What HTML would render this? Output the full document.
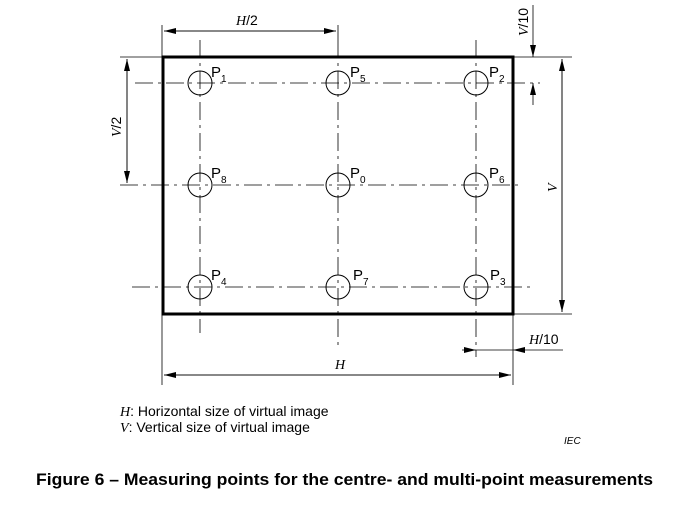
<!DOCTYPE html>
<html><head><style>
body{margin:0;background:#fff;width:689px;height:504px;overflow:hidden}
svg text{font-family:"Liberation Sans",sans-serif;fill:#000}
.i{font-family:"Liberation Serif",serif;font-style:italic}
</style></head><body>
<svg width="689" height="504" viewBox="0 0 689 504">
<defs>
<marker id="a" markerWidth="12" markerHeight="6" refX="12" refY="3" orient="auto" markerUnits="userSpaceOnUse"><path d="M0,0L12,3L0,6z" fill="#000"/></marker>
</defs>
<g stroke="#000" stroke-width="0.8" fill="none" stroke-dasharray="18,5,3,5">
<line x1="200" y1="40" x2="200" y2="333"/>
<line x1="338" y1="40" x2="338" y2="345"/>
<line x1="476" y1="40" x2="476" y2="357"/>
<line x1="135" y1="83" x2="540" y2="83"/>
<line x1="120" y1="185" x2="520" y2="185"/>
<line x1="132" y1="287" x2="530" y2="287"/>
</g>
<g stroke="#000" stroke-width="1" fill="none">
<circle cx="200" cy="83" r="12"/><circle cx="338" cy="83" r="12"/><circle cx="476" cy="83" r="12"/>
<circle cx="200" cy="185" r="12"/><circle cx="338" cy="185" r="12"/><circle cx="476" cy="185" r="12"/>
<circle cx="200" cy="287" r="12"/><circle cx="338" cy="287" r="12"/><circle cx="476" cy="287" r="12"/>
</g>
<rect x="163" y="57" width="350" height="257" fill="none" stroke="#000" stroke-width="3"/>
<g stroke="#000" stroke-width="0.8" fill="none">
<line x1="162" y1="25" x2="162" y2="57"/><line x1="338" y1="25" x2="338" y2="40"/>
<line x1="164" y1="31" x2="336" y2="31" marker-end="url(#a)"/>
<line x1="336" y1="31" x2="164" y2="31" marker-end="url(#a)"/>
<line x1="120" y1="57" x2="162" y2="57"/>
<line x1="127" y1="59" x2="127" y2="183" marker-end="url(#a)"/>
<line x1="127" y1="183" x2="127" y2="59" marker-end="url(#a)"/>
<line x1="513" y1="57" x2="572" y2="57"/>
<line x1="533" y1="5" x2="533" y2="57" marker-end="url(#a)"/>
<line x1="533" y1="105" x2="533" y2="83" marker-end="url(#a)"/>
<line x1="562" y1="59" x2="562" y2="312" marker-end="url(#a)"/>
<line x1="562" y1="312" x2="562" y2="59" marker-end="url(#a)"/>
<line x1="513" y1="314" x2="572" y2="314"/>
<line x1="162" y1="314" x2="162" y2="385"/><line x1="513" y1="314" x2="513" y2="385"/>
<line x1="164" y1="375" x2="511" y2="375" marker-end="url(#a)"/>
<line x1="511" y1="375" x2="164" y2="375" marker-end="url(#a)"/>
<line x1="462" y1="350" x2="476" y2="350" marker-end="url(#a)"/>
<line x1="563" y1="350" x2="513" y2="350" marker-end="url(#a)"/>
<line x1="476" y1="350" x2="513" y2="350"/>
</g>
<g font-size="15">
<text x="211" y="77">P<tspan font-size="10" dy="5">1</tspan></text>
<text x="350" y="77">P<tspan font-size="10" dy="5">5</tspan></text>
<text x="489" y="77">P<tspan font-size="10" dy="5">2</tspan></text>
<text x="211" y="178">P<tspan font-size="10" dy="5">8</tspan></text>
<text x="350" y="178">P<tspan font-size="10" dy="5">0</tspan></text>
<text x="489" y="178">P<tspan font-size="10" dy="5">6</tspan></text>
<text x="211" y="280">P<tspan font-size="10" dy="5">4</tspan></text>
<text x="353" y="280">P<tspan font-size="10" dy="5">7</tspan></text>
<text x="490" y="280">P<tspan font-size="10" dy="5">3</tspan></text>
</g>
<g font-size="14">
<text x="236" y="25"><tspan class="i">H</tspan>/2</text>
<text transform="translate(121,137) rotate(-90)"><tspan class="i">V</tspan>/2</text>
<text transform="translate(528,36) rotate(-90)"><tspan class="i">V</tspan>/10</text>
<text class="i" transform="translate(557,192) rotate(-90)">V</text>
<text class="i" x="335" y="369">H</text>
<text x="529" y="344"><tspan class="i">H</tspan>/10</text>
<text x="120" y="416"><tspan class="i">H</tspan>: Horizontal size of virtual image</text>
<text x="120" y="432"><tspan class="i">V</tspan>: Vertical size of virtual image</text>
</g>
<text x="564" y="444" font-size="10" font-style="italic">IEC</text>
<text x="344.5" y="485" font-size="16.5" font-weight="bold" text-anchor="middle" textLength="617" lengthAdjust="spacingAndGlyphs">Figure 6 – Measuring points for the centre- and multi-point measurements</text>
</svg>
</body></html>
